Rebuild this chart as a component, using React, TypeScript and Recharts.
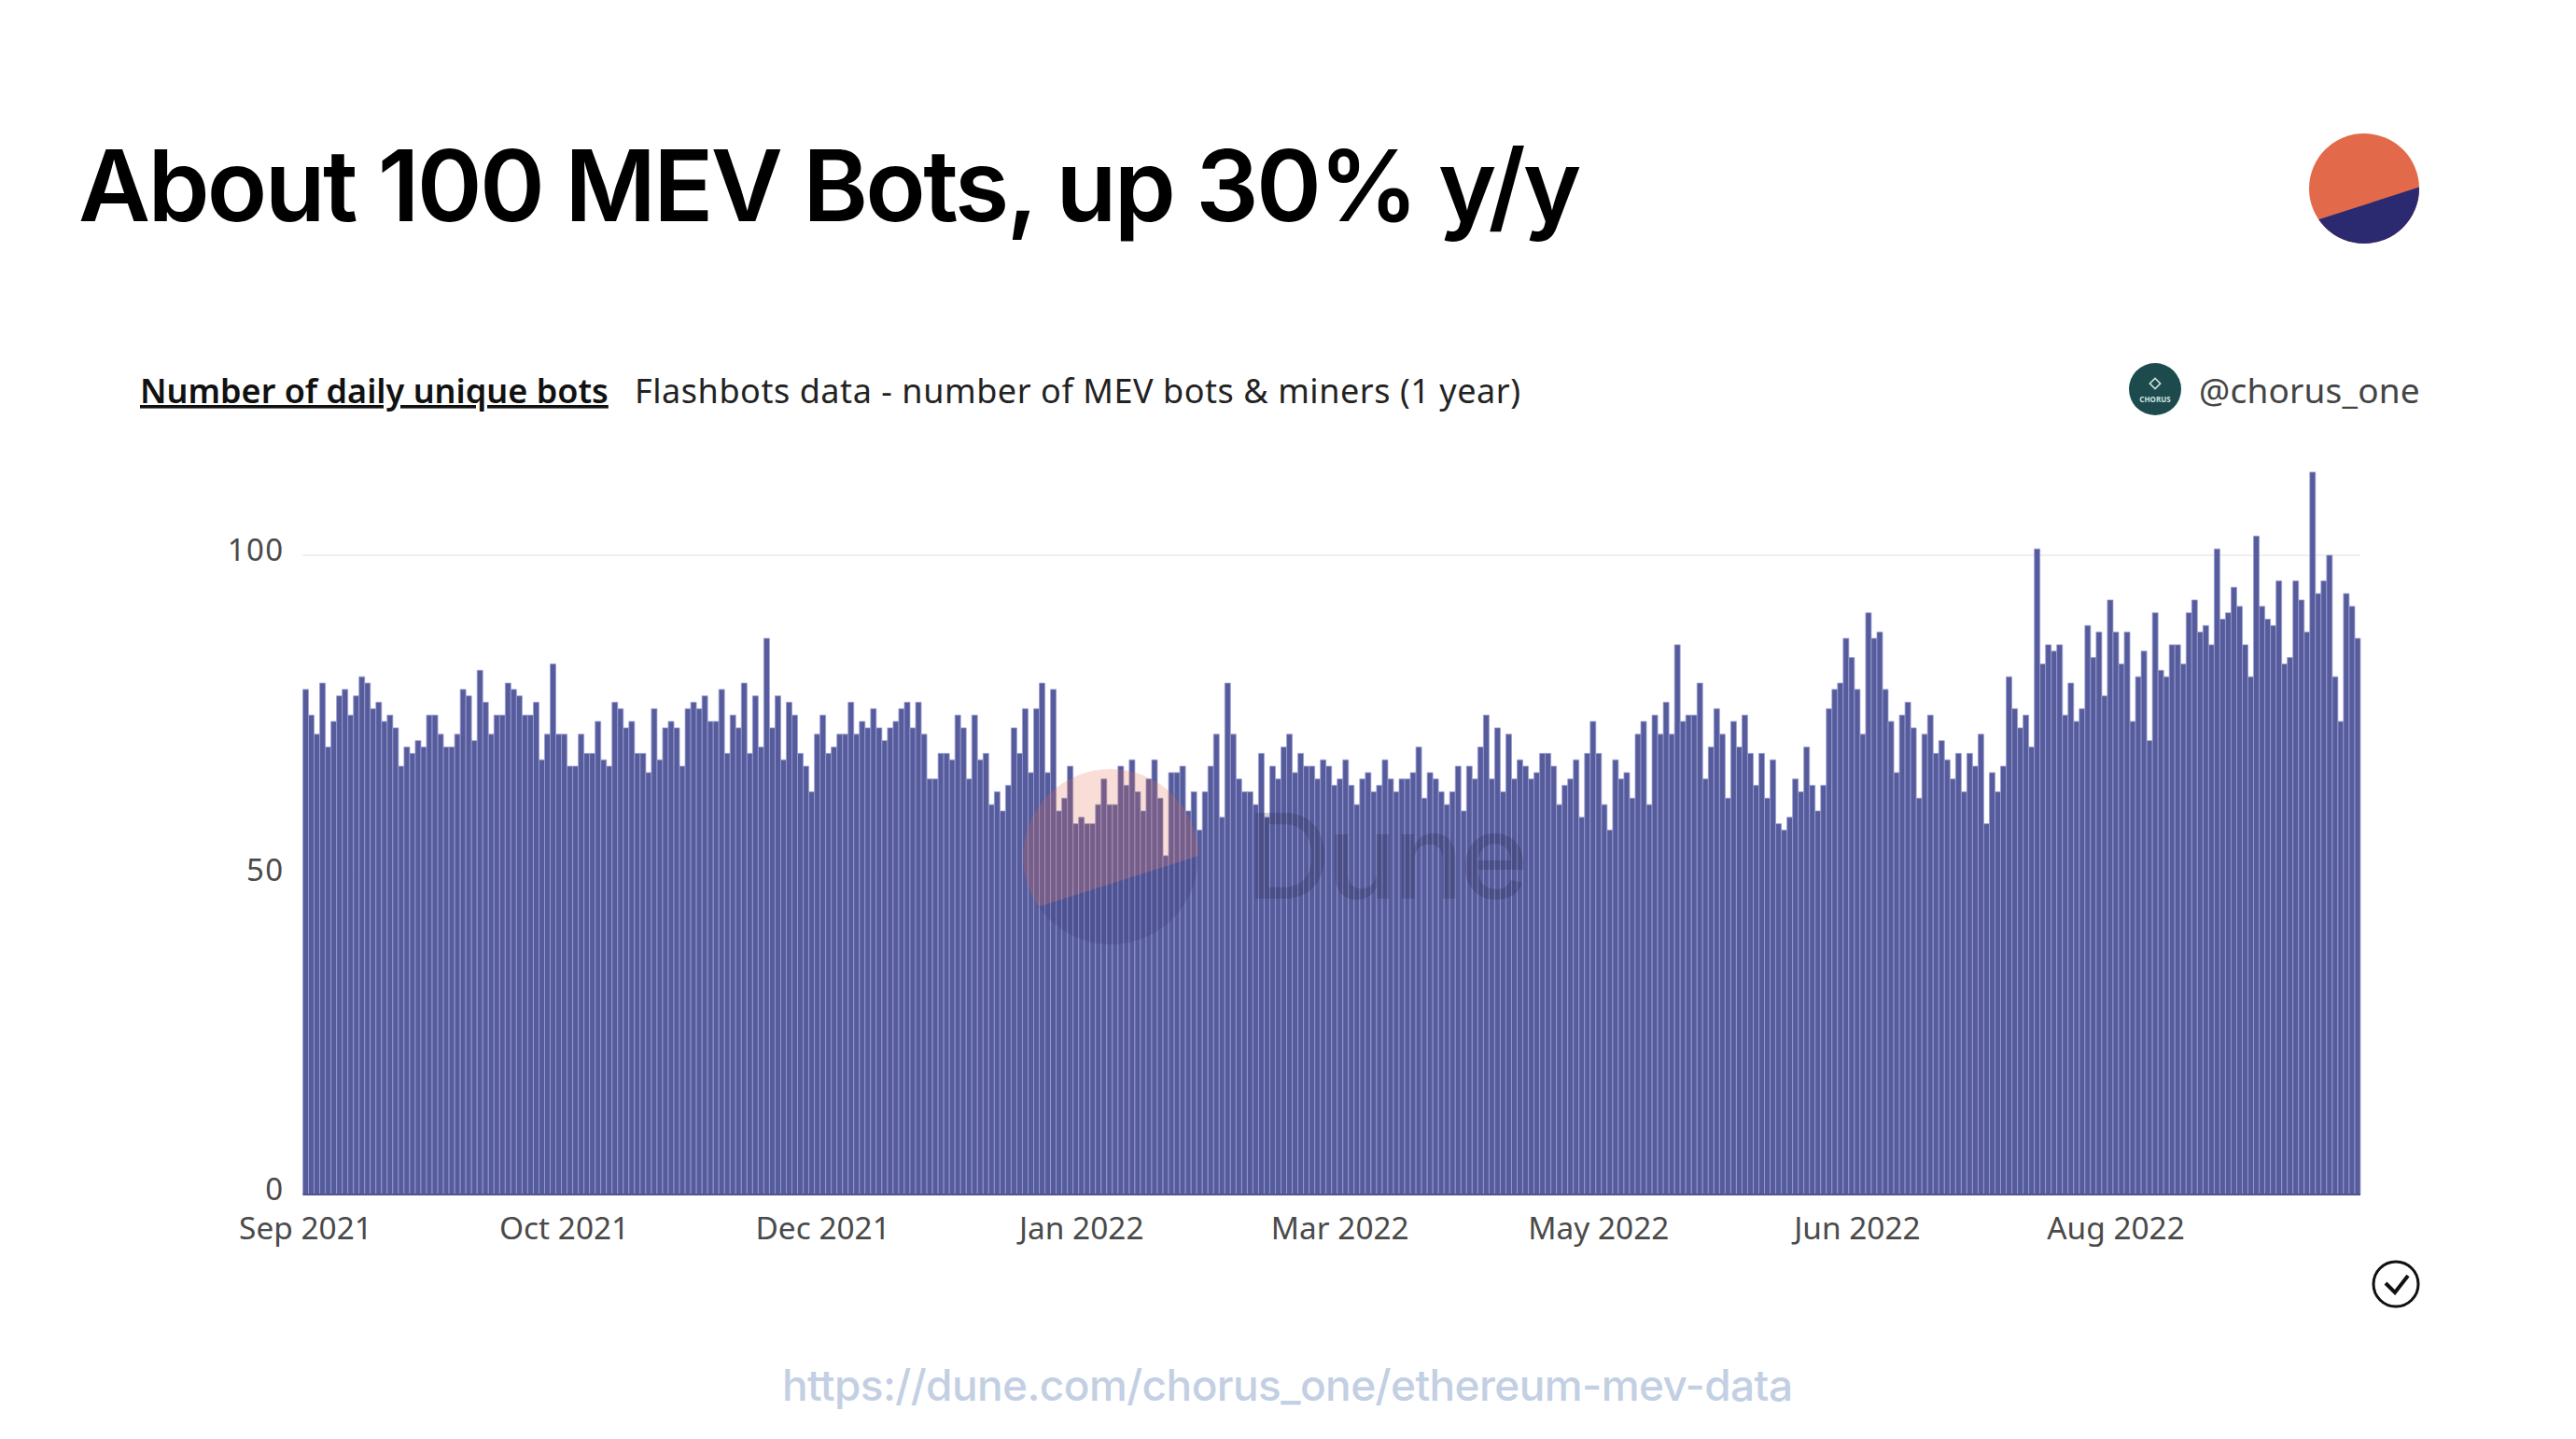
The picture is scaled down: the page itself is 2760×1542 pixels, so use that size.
import React from "react";
import { BarChart, Bar, XAxis, YAxis, CartesianGrid } from "recharts";

const TITLE = "About 100 MEV Bots, up 30% y/y";
const CHART_TITLE = "Number of daily unique bots";
const CHART_SUBTITLE = "Flashbots data - number of MEV bots & miners (1 year)";
const HANDLE = "@chorus_one";
const URL_TEXT = "https://dune.com/chorus_one/ethereum-mev-data";

const botsPart1 = [79,75,72,80,70,74,78,79,75,78,81,80,76,77,74,75,73,67,70,69,71,70,75,75,72,70,70,72,79,78,71,82,77,72,75,75,80,79,78,75,75,77,68,72,83,72,72,67,67,72,69,69,74,68,67,77,76,73,74,69,69,66,76,68,73,74,73,67,76,77,76,78,74,74,79,69,75,73,80,69,78,70,87,73,78,68];
const botsPart2 = [77,75,69,67,63,72,75,69,70,72,72,77,72,74,73,76,73,71,73,74,76,77,73,77,72,65,65,69,69,68,75,73,65,75,68,69,61,63,60,64,73,69,76,66,76,80,66,79,60,62,67,58,59,58,58,61,65,61,61,67,64,68,63,60,65,68,62,53,66,66,67,60,63,57,63,67,72,59,80,72,65,63,63,61,69,59,67,65,70,72,66,69,67,67,65,68];
const botsPart3 = [67,64,65,68,64,61,65,66,63,64,68,65,63,65,65,66,70,62,66,65,63,61,63,67,60,67,65,70,75,65,73,63,72,65,68,67,65,66,69,69,67,61,64,65,68,59,69,74,69,61,57,68,65,66,62,72,74,61,75,72,77,72,86,74,75,75,80,65,70,76,72,62,74,70,75,69,64,69,62,68,58,57,59,65,63,70,64,60,64,76,79,80,87,84,79,72,91];
const botsPart4 = [87,88,79,74,66,75,77,73,62,72,75,69,71,68,65,69,63,69,67,72,58,66,63,67,81,76,73,75,70,101,83,86,85,86,75,80,74,76,89,84,88,78,93,88,83,88,74,81,85,71,91,82,81,86,86,83,91,93,88,89,86,101,90,91,95,92,86,81,103,92,90,89,96,83,84,96,93,88,113,94,96,100,81,74,94,92,87];

const xTickDays = [0, 46, 92, 138, 184, 230, 276, 322];
const xTickLabels = ["Sep 2021", "Oct 2021", "Dec 2021", "Jan 2022", "Mar 2022", "May 2022", "Jun 2022", "Aug 2022"];
const yTicks = [0, 50, 100];

const botValues = [...botsPart1, ...botsPart2, ...botsPart3, ...botsPart4];
const chartData = botValues.map((bots, day) => ({ day, bots }));

const AXIS_FONT = "'Noto Sans', sans-serif";
const ORANGE = "#E26A4A";
const NAVY = "#2B2A70";

function YTick(props: any) {
  const { x, y, payload } = props;
  return (
    <text x={x} y={y + 6} textAnchor="end" fontFamily={AXIS_FONT} fontSize={33} letterSpacing={1.4} fill="#4a4a4a">
      {payload.value}
    </text>
  );
}

function XTick(props: any) {
  const { x, y, payload } = props;
  const label = xTickLabels[xTickDays.indexOf(payload.value)];
  return (
    <text x={x} y={y + 40} textAnchor="middle" fontFamily={AXIS_FONT} fontSize={33.4} fill="#4a4a4a">
      {label}
    </text>
  );
}

function Overlay() {
  return (
    <svg
      width={2760}
      height={1542}
      style={{ position: "absolute", left: 0, top: 0, pointerEvents: "none" }}
    >
      <defs>
        <clipPath id="logoTop"><circle cx={2533} cy={202} r={59} /></clipPath>
        <clipPath id="logoMark"><circle cx={1190} cy={918} r={94} /></clipPath>
      </defs>

      <text x={84} y={237} fontFamily="Inter, sans-serif" fontWeight={600} fontSize={106} fill="#000" letterSpacing={-2.7}>
        {TITLE}
      </text>

      <g clipPath="url(#logoTop)">
        <rect x={2470} y={140} width={130} height={130} fill={ORANGE} />
        <polygon points="2460,243 2600,198 2600,270 2460,270" fill={NAVY} />
      </g>

      <text x={150} y={432} fontFamily="'Noto Sans', sans-serif" fontWeight={600} fontSize={36} fill="#111" textDecoration="underline">
        {CHART_TITLE}
      </text>
      <text x={680} y={432} fontFamily="'Noto Sans', sans-serif" fontSize={36} letterSpacing={0.55} fill="#222">
        {CHART_SUBTITLE}
      </text>

      <circle cx={2309} cy={417} r={28} fill="#1C4A4D" />
      <g stroke="#cfe3e0" strokeWidth={1.6} fill="none">
        <rect x={2305} y={407} width={8} height={8} transform="rotate(45 2309 411)" />
      </g>
      <text x={2309} y={431} textAnchor="middle" fontFamily="'Noto Sans', sans-serif" fontWeight={700} fontSize={8} fill="#cfe3e0">
        CHORUS
      </text>
      <text x={2356} y={432} fontFamily="'Noto Sans', sans-serif" fontSize={37} letterSpacing={0.2} fill="#444">
        {HANDLE}
      </text>

      <g clipPath="url(#logoMark)">
        <polygon points="1080,982 1300,912 1300,810 1080,810" fill={ORANGE} opacity={0.22} />
        <polygon points="1080,982 1300,912 1300,1020 1080,1020" fill={NAVY} opacity={0.18} />
      </g>
      <text x={1335} y={963} fontFamily="Inter, sans-serif" fontWeight={500} fontSize={126} letterSpacing={-4.5} fill="#1f1f3a" opacity={0.2}>
        Dune
      </text>

      <circle cx={2567} cy={1376} r={24} fill="none" stroke="#111" strokeWidth={3} />
      <polyline points="2556,1375 2566,1385 2580,1367" fill="none" stroke="#111" strokeWidth={4} />

      <text x={838} y={1501} fontFamily="Inter, sans-serif" fontWeight={500} fontSize={46} fill="#C3CFE3" letterSpacing={-0.6}>
        {URL_TEXT}
      </text>
    </svg>
  );
}

export default function App() {
  return (
    <div style={{ position: "absolute", left: 0, top: 0, width: 2760, height: 1542, background: "#fff" }}>
      <BarChart
        width={2760}
        height={1542}
        data={chartData}
        barCategoryGap={0}
        margin={{ top: 492.25, right: 231, bottom: 202, left: 244.5 }}
      >
        <CartesianGrid vertical={false} horizontalValues={yTicks} syncWithTicks stroke="#efefef" strokeWidth={2} />
        <XAxis
          dataKey="day"
          type="category"
          ticks={xTickDays}
          interval={0}
          height={60}
          tickLine={false}
          axisLine={{ stroke: "#4f5390", strokeWidth: 2 }}
          tick={<XTick />}
        />
        <YAxis
          width={80}
          domain={[0, 115]}
          ticks={yTicks}
          tickLine={false}
          axisLine={false}
          tickMargin={14}
          tick={<YTick />}
        />
        <Bar dataKey="bots" fill="#565B9B" stroke="#9a9ed4" strokeWidth={0.8} isAnimationActive={false} />
      </BarChart>
      <Overlay />
    </div>
  );
}
